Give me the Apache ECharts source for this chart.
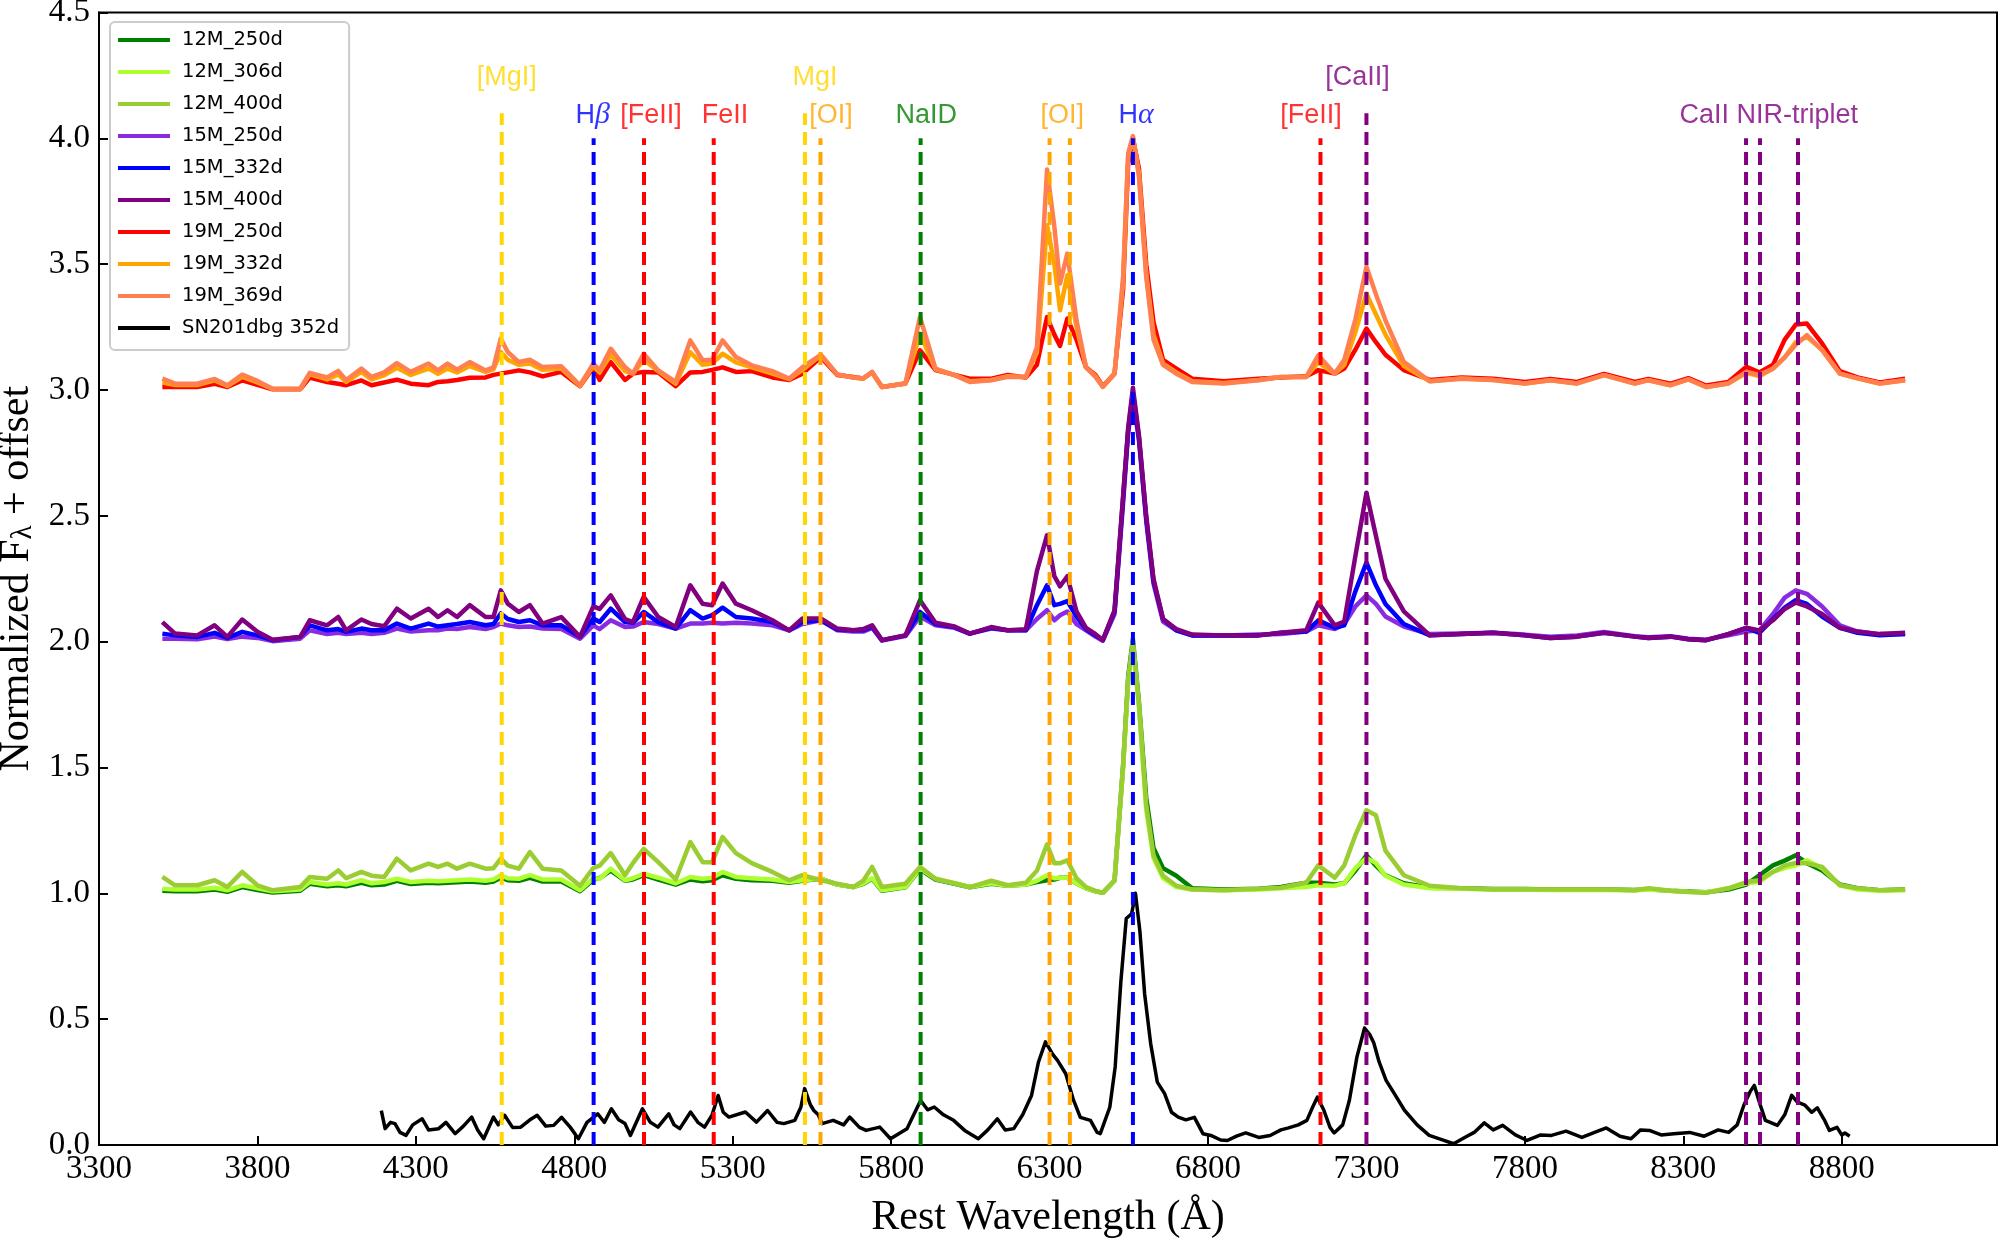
<!DOCTYPE html>
<html>
<head>
<meta charset="utf-8">
<title>Nebular spectra</title>
<script src="https://cdn.jsdelivr.net/npm/echarts@6/dist/echarts.min.js"></script>
<style>
  html, body { margin: 0; padding: 0; background: #fff; }
  #chart { width: 2001px; height: 1240px; }
</style>
</head>
<body>
<div id="chart"></div>
<script>
// rest wavelength grid shared by the model spectra (Angstrom)
const wave = [
  3500, 3540, 3610, 3665, 3705, 3752, 3800, 3848, 3935, 3965,
  4020, 4055, 4080, 4128, 4160, 4200, 4240, 4284, 4340, 4370,
  4400, 4430, 4470, 4520, 4545, 4568, 4590, 4625, 4660, 4700,
  4759, 4818, 4860, 4880, 4915, 4960, 4985, 5019, 5065, 5120,
  5166, 5205, 5235, 5268, 5310, 5360, 5425, 5478, 5520, 5578,
  5630, 5680, 5712, 5740, 5771, 5845, 5891, 5940, 6000, 6048,
  6116, 6168, 6225, 6260, 6292, 6315, 6333, 6356, 6385, 6415,
  6445, 6468, 6505, 6532, 6548, 6563, 6582, 6605, 6628, 6658,
  6700, 6750, 6850, 6960, 7030, 7110, 7148, 7200, 7230, 7265,
  7300, 7330, 7360, 7418, 7500, 7600, 7700, 7800, 7880, 7965,
  8050, 8147, 8190, 8260, 8316, 8372, 8442, 8499, 8540, 8583,
  8620, 8655, 8690, 8738, 8794, 8850, 8920, 9000
]

// normalized flux + offset
const m12_250 = [
  1.010, 1.008, 1.008, 1.015, 1.006, 1.025, 1.013, 1.003, 1.010, 1.038,
  1.028, 1.032, 1.028, 1.042, 1.032, 1.035, 1.050, 1.037, 1.042, 1.040,
  1.042, 1.044, 1.047, 1.042, 1.047, 1.062, 1.052, 1.050, 1.062, 1.047,
  1.047, 1.008, 1.055, 1.060, 1.090, 1.050, 1.055, 1.072, 1.055, 1.035,
  1.055, 1.048, 1.052, 1.072, 1.058, 1.052, 1.050, 1.042, 1.050, 1.058,
  1.035, 1.025, 1.038, 1.058, 1.010, 1.024, 1.095, 1.055, 1.038, 1.024,
  1.038, 1.030, 1.035, 1.045, 1.052, 1.055, 1.062, 1.062, 1.040, 1.020,
  1.008, 1.002, 1.050, 1.510, 1.860, 2.010, 1.760, 1.380, 1.180, 1.100,
  1.070, 1.020, 1.015, 1.018, 1.025, 1.042, 1.042, 1.035, 1.040, 1.090,
  1.151, 1.110, 1.072, 1.040, 1.022, 1.020, 1.017, 1.017, 1.015, 1.015,
  1.015, 1.013, 1.016, 1.010, 1.007, 1.004, 1.015, 1.035, 1.072, 1.111,
  1.130, 1.151, 1.120, 1.091, 1.035, 1.020, 1.012, 1.015
]
const m12_306 = [
  1.018, 1.015, 1.015, 1.022, 1.012, 1.032, 1.020, 1.008, 1.015, 1.045,
  1.035, 1.040, 1.035, 1.052, 1.040, 1.045, 1.058, 1.045, 1.050, 1.048,
  1.050, 1.052, 1.055, 1.050, 1.055, 1.072, 1.060, 1.058, 1.072, 1.055,
  1.055, 1.012, 1.060, 1.058, 1.098, 1.052, 1.060, 1.078, 1.062, 1.040,
  1.065, 1.058, 1.062, 1.085, 1.065, 1.060, 1.055, 1.045, 1.052, 1.058,
  1.035, 1.025, 1.040, 1.060, 1.012, 1.025, 1.098, 1.058, 1.040, 1.025,
  1.040, 1.030, 1.035, 1.050, 1.072, 1.060, 1.062, 1.062, 1.040, 1.020,
  1.008, 1.002, 1.050, 1.500, 1.840, 1.990, 1.740, 1.330, 1.140, 1.060,
  1.025, 1.015, 1.012, 1.015, 1.020, 1.025, 1.032, 1.030, 1.040, 1.100,
  1.141, 1.120, 1.070, 1.035, 1.020, 1.018, 1.015, 1.015, 1.013, 1.013,
  1.013, 1.012, 1.015, 1.010, 1.006, 1.004, 1.020, 1.040, 1.045, 1.085,
  1.100, 1.111, 1.131, 1.100, 1.032, 1.015, 1.010, 1.012
]
const m12_400 = [
  1.065, 1.032, 1.032, 1.052, 1.025, 1.085, 1.032, 1.012, 1.025, 1.065,
  1.058, 1.091, 1.060, 1.085, 1.070, 1.065, 1.138, 1.091, 1.118, 1.105,
  1.118, 1.098, 1.118, 1.098, 1.100, 1.138, 1.110, 1.098, 1.164, 1.098,
  1.091, 1.030, 1.100, 1.110, 1.160, 1.072, 1.120, 1.177, 1.124, 1.055,
  1.204, 1.124, 1.124, 1.224, 1.160, 1.120, 1.085, 1.052, 1.072, 1.052,
  1.038, 1.025, 1.050, 1.105, 1.025, 1.038, 1.105, 1.058, 1.040, 1.025,
  1.050, 1.032, 1.042, 1.090, 1.195, 1.120, 1.120, 1.131, 1.060, 1.025,
  1.010, 1.002, 1.052, 1.500, 1.850, 1.996, 1.750, 1.350, 1.150, 1.070,
  1.030, 1.015, 1.012, 1.018, 1.022, 1.042, 1.111, 1.062, 1.111, 1.231,
  1.330, 1.310, 1.170, 1.072, 1.030, 1.020, 1.015, 1.015, 1.015, 1.015,
  1.015, 1.012, 1.020, 1.010, 1.005, 1.002, 1.020, 1.045, 1.052, 1.085,
  1.110, 1.121, 1.120, 1.105, 1.032, 1.020, 1.012, 1.015
]
const m15_250 = [
  2.012, 2.012, 2.010, 2.020, 2.010, 2.020, 2.015, 2.002, 2.012, 2.045,
  2.030, 2.035, 2.030, 2.035, 2.030, 2.035, 2.052, 2.040, 2.045, 2.045,
  2.052, 2.050, 2.058, 2.050, 2.058, 2.072, 2.065, 2.058, 2.060, 2.052,
  2.050, 2.012, 2.065, 2.050, 2.085, 2.058, 2.060, 2.078, 2.070, 2.052,
  2.072, 2.072, 2.075, 2.072, 2.075, 2.072, 2.065, 2.045, 2.070, 2.085,
  2.045, 2.040, 2.040, 2.055, 2.004, 2.022, 2.100, 2.065, 2.055, 2.032,
  2.052, 2.045, 2.045, 2.090, 2.125, 2.085, 2.105, 2.120, 2.070, 2.045,
  2.020, 2.004, 2.110, 2.550, 2.830, 2.970, 2.800, 2.480, 2.230, 2.080,
  2.045, 2.025, 2.025, 2.028, 2.030, 2.040, 2.065, 2.050, 2.070, 2.140,
  2.184, 2.150, 2.100, 2.060, 2.030, 2.032, 2.035, 2.028, 2.020, 2.025,
  2.038, 2.022, 2.018, 2.022, 2.012, 2.008, 2.025, 2.040, 2.045, 2.110,
  2.175, 2.204, 2.190, 2.140, 2.065, 2.040, 2.030, 2.030
]
const m15_332 = [
  2.032, 2.025, 2.019, 2.035, 2.015, 2.039, 2.025, 2.006, 2.019, 2.065,
  2.045, 2.050, 2.039, 2.052, 2.045, 2.045, 2.072, 2.052, 2.072, 2.060,
  2.065, 2.070, 2.078, 2.065, 2.070, 2.112, 2.090, 2.078, 2.085, 2.065,
  2.065, 2.019, 2.092, 2.078, 2.131, 2.078, 2.075, 2.118, 2.078, 2.052,
  2.125, 2.092, 2.105, 2.135, 2.098, 2.092, 2.078, 2.045, 2.078, 2.085,
  2.048, 2.045, 2.045, 2.060, 2.006, 2.025, 2.118, 2.070, 2.058, 2.032,
  2.055, 2.045, 2.045, 2.145, 2.224, 2.145, 2.150, 2.161, 2.100, 2.050,
  2.025, 2.006, 2.120, 2.570, 2.840, 2.990, 2.810, 2.490, 2.240, 2.090,
  2.045, 2.025, 2.025, 2.025, 2.035, 2.040, 2.085, 2.055, 2.065, 2.200,
  2.314, 2.224, 2.150, 2.070, 2.025, 2.030, 2.035, 2.025, 2.015, 2.020,
  2.035, 2.020, 2.015, 2.020, 2.010, 2.006, 2.030, 2.055, 2.035, 2.090,
  2.135, 2.165, 2.150, 2.100, 2.055, 2.035, 2.025, 2.030
]
const m15_400 = [
  2.078, 2.032, 2.025, 2.065, 2.019, 2.088, 2.039, 2.008, 2.019, 2.085,
  2.065, 2.098, 2.045, 2.088, 2.070, 2.061, 2.131, 2.092, 2.131, 2.098,
  2.125, 2.098, 2.145, 2.098, 2.098, 2.204, 2.151, 2.118, 2.145, 2.072,
  2.098, 2.019, 2.140, 2.130, 2.184, 2.090, 2.078, 2.178, 2.098, 2.058,
  2.224, 2.151, 2.145, 2.231, 2.151, 2.125, 2.085, 2.045, 2.092, 2.092,
  2.052, 2.045, 2.050, 2.065, 2.006, 2.025, 2.164, 2.075, 2.060, 2.032,
  2.058, 2.045, 2.049, 2.280, 2.423, 2.260, 2.220, 2.260, 2.120, 2.055,
  2.030, 2.006, 2.125, 2.580, 2.850, 3.009, 2.820, 2.500, 2.250, 2.090,
  2.050, 2.028, 2.025, 2.025, 2.035, 2.045, 2.155, 2.065, 2.080, 2.340,
  2.592, 2.420, 2.250, 2.120, 2.025, 2.030, 2.035, 2.025, 2.015, 2.020,
  2.035, 2.020, 2.015, 2.020, 2.010, 2.006, 2.030, 2.055, 2.045, 2.085,
  2.130, 2.155, 2.140, 2.110, 2.055, 2.040, 2.030, 2.035
]
const m19_250 = [
  3.012, 3.012, 3.012, 3.025, 3.012, 3.038, 3.020, 3.003, 3.003, 3.049,
  3.032, 3.025, 3.019, 3.038, 3.019, 3.030, 3.041, 3.025, 3.019, 3.032,
  3.035, 3.040, 3.049, 3.050, 3.060, 3.065, 3.070, 3.078, 3.070, 3.054,
  3.072, 3.015, 3.090, 3.040, 3.111, 3.040, 3.065, 3.072, 3.070, 3.015,
  3.070, 3.072, 3.080, 3.090, 3.072, 3.075, 3.050, 3.040, 3.065, 3.130,
  3.060, 3.052, 3.046, 3.070, 3.012, 3.026, 3.158, 3.079, 3.060, 3.045,
  3.045, 3.060, 3.050, 3.100, 3.290, 3.220, 3.175, 3.284, 3.200, 3.090,
  3.060, 3.015, 3.065, 3.400, 3.900, 4.000, 3.880, 3.500, 3.270, 3.120,
  3.085, 3.045, 3.035, 3.045, 3.050, 3.055, 3.079, 3.065, 3.085, 3.160,
  3.244, 3.190, 3.140, 3.079, 3.040, 3.050, 3.045, 3.032, 3.044, 3.032,
  3.064, 3.032, 3.044, 3.025, 3.047, 3.018, 3.032, 3.092, 3.070, 3.100,
  3.200, 3.260, 3.264, 3.185, 3.075, 3.050, 3.030, 3.045
]
const m19_332 = [
  3.030, 3.020, 3.020, 3.038, 3.016, 3.052, 3.030, 3.004, 3.004, 3.062,
  3.042, 3.062, 3.032, 3.072, 3.042, 3.058, 3.088, 3.060, 3.085, 3.065,
  3.085, 3.070, 3.095, 3.072, 3.082, 3.151, 3.120, 3.100, 3.105, 3.080,
  3.085, 3.017, 3.095, 3.070, 3.140, 3.075, 3.065, 3.120, 3.075, 3.025,
  3.150, 3.100, 3.105, 3.144, 3.110, 3.090, 3.065, 3.043, 3.080, 3.138,
  3.062, 3.050, 3.046, 3.070, 3.012, 3.026, 3.224, 3.082, 3.059, 3.035,
  3.040, 3.055, 3.052, 3.150, 3.655, 3.500, 3.317, 3.456, 3.250, 3.090,
  3.055, 3.013, 3.065, 3.430, 3.930, 4.005, 3.860, 3.460, 3.220, 3.105,
  3.070, 3.035, 3.028, 3.040, 3.052, 3.052, 3.110, 3.065, 3.100, 3.230,
  3.383, 3.300, 3.220, 3.095, 3.035, 3.046, 3.040, 3.026, 3.039, 3.026,
  3.059, 3.026, 3.039, 3.019, 3.042, 3.012, 3.026, 3.068, 3.055, 3.085,
  3.130, 3.190, 3.211, 3.160, 3.065, 3.046, 3.026, 3.039
]
const m19_369 = [
  3.045, 3.025, 3.025, 3.044, 3.019, 3.061, 3.036, 3.005, 3.005, 3.068,
  3.050, 3.076, 3.040, 3.085, 3.052, 3.070, 3.107, 3.072, 3.105, 3.078,
  3.105, 3.081, 3.111, 3.078, 3.090, 3.204, 3.151, 3.111, 3.120, 3.091,
  3.094, 3.019, 3.105, 3.078, 3.164, 3.091, 3.065, 3.144, 3.078, 3.032,
  3.197, 3.118, 3.120, 3.197, 3.131, 3.098, 3.075, 3.045, 3.091, 3.140,
  3.062, 3.050, 3.046, 3.072, 3.012, 3.026, 3.290, 3.085, 3.059, 3.032,
  3.039, 3.052, 3.052, 3.170, 3.876, 3.650, 3.423, 3.542, 3.277, 3.090,
  3.052, 3.012, 3.065, 3.450, 3.940, 4.009, 3.850, 3.450, 3.200, 3.100,
  3.065, 3.032, 3.026, 3.039, 3.052, 3.052, 3.138, 3.065, 3.120, 3.280,
  3.490, 3.380, 3.277, 3.112, 3.035, 3.045, 3.040, 3.026, 3.039, 3.026,
  3.059, 3.026, 3.039, 3.019, 3.042, 3.012, 3.026, 3.072, 3.060, 3.085,
  3.130, 3.180, 3.218, 3.158, 3.065, 3.046, 3.026, 3.039
]

// observed spectrum
const snWave = [
  4191, 4203, 4220, 4234, 4250, 4269, 4290, 4320, 4340, 4372,
  4395, 4424, 4450, 4476, 4495, 4514, 4545, 4560, 4580, 4605,
  4631, 4660, 4683, 4710, 4735, 4760, 4787, 4813, 4840, 4874,
  4895, 4917, 4940, 4960, 4977, 5015, 5040, 5064, 5098, 5115,
  5133, 5167, 5190, 5211, 5235, 5254, 5270, 5288, 5340, 5375,
  5410, 5440, 5461, 5496, 5515, 5527, 5545, 5556, 5570, 5582,
  5617, 5650, 5669, 5700, 5721, 5764, 5798, 5850, 5875, 5893,
  5915, 5936, 5965, 5997, 6032, 6075, 6105, 6135, 6160, 6187,
  6215, 6243, 6265, 6287, 6310, 6325, 6351, 6375, 6397, 6429,
  6450, 6460, 6490, 6507, 6525, 6542, 6559, 6571, 6585, 6600,
  6619, 6640, 6663, 6685, 6706, 6730, 6757, 6784, 6809, 6840,
  6861, 6890, 6919, 6960, 6996, 7030, 7054, 7085, 7112, 7130,
  7145, 7165, 7185, 7198, 7225, 7246, 7270, 7294, 7310, 7323,
  7340, 7362, 7390, 7420, 7460, 7498, 7540, 7575, 7610, 7640,
  7672, 7700, 7730, 7770, 7807, 7850, 7884, 7930, 7980, 8020,
  8057, 8100, 8135, 8165, 8193, 8230, 8270, 8320, 8366, 8410,
  8443, 8470, 8491, 8510, 8524, 8540, 8559, 8597, 8620, 8642,
  8660, 8684, 8705, 8723, 8745, 8761, 8785, 8800, 8810, 8825
]
const snFlux = [
  0.137, 0.065, 0.090, 0.085, 0.050, 0.038, 0.080, 0.104, 0.060, 0.065,
  0.090, 0.045, 0.075, 0.111, 0.060, 0.025, 0.111, 0.080, 0.118, 0.070,
  0.071, 0.100, 0.118, 0.075, 0.078, 0.110, 0.071, 0.025, 0.090, 0.124,
  0.090, 0.144, 0.100, 0.085, 0.038, 0.144, 0.090, 0.071, 0.124, 0.080,
  0.065, 0.131, 0.090, 0.071, 0.120, 0.197, 0.130, 0.111, 0.131, 0.091,
  0.137, 0.090, 0.085, 0.098, 0.150, 0.224, 0.160, 0.137, 0.120, 0.085,
  0.098, 0.080, 0.111, 0.070, 0.058, 0.071, 0.025, 0.065, 0.130, 0.177,
  0.140, 0.151, 0.120, 0.098, 0.058, 0.025, 0.060, 0.104, 0.060, 0.065,
  0.120, 0.197, 0.330, 0.410, 0.360, 0.336, 0.283, 0.180, 0.110, 0.098,
  0.050, 0.045, 0.150, 0.310, 0.650, 0.900, 0.919, 1.000, 0.850, 0.600,
  0.403, 0.250, 0.204, 0.130, 0.111, 0.100, 0.110, 0.045, 0.038, 0.020,
  0.018, 0.035, 0.048, 0.030, 0.038, 0.060, 0.068, 0.080, 0.098, 0.150,
  0.190, 0.140, 0.070, 0.048, 0.080, 0.177, 0.350, 0.465, 0.440, 0.406,
  0.330, 0.257, 0.200, 0.138, 0.080, 0.038, 0.020, 0.005, 0.030, 0.050,
  0.088, 0.060, 0.078, 0.040, 0.018, 0.040, 0.038, 0.055, 0.030, 0.050,
  0.068, 0.035, 0.025, 0.060, 0.058, 0.040, 0.045, 0.050, 0.035, 0.060,
  0.050, 0.080, 0.158, 0.210, 0.237, 0.170, 0.098, 0.078, 0.120, 0.197,
  0.170, 0.158, 0.130, 0.148, 0.100, 0.058, 0.070, 0.040, 0.048, 0.035
]

// line identifications
const lineWave = [4571, 4861, 5020, 5240, 5528, 5577, 5893, 6300, 6364, 6563, 7155, 7300, 8498, 8542, 8662]
const lineIon = ['[MgI]', 'H', '[FeII]', 'FeII', 'MgI', '[OI]', 'NaID', '[OI]', '[OI]', 'H', '[FeII]', '[CaII]', 'CaII', 'CaII', 'CaII']
const labelText = ['[MgI]', 'Hβ', '[FeII]', 'FeII', 'MgI', '[OI]', 'NaID', '[OI]', 'Hα', '[FeII]', '[CaII]', 'CaII NIR-triplet']
const labelWave = [4587, 4858, 5042, 5276, 5560, 5610, 5911, 6340, 6573, 7125, 7272, 8570]
const labelUpper = [true, false, false, false, true, false, false, false, false, false, true, false]

const ionColor = {
  '[MgI]': '#FFD700', 'MgI': '#FFD700', 'H': '#0000FF', '[FeII]': '#FF0000', 'FeII': '#FF0000',
  '[OI]': '#FFA500', 'NaID': '#008000', '[CaII]': '#800080', 'CaII': '#800080'
}
const labelColor = ['#FFD700', '#0000FF', '#FF0000', '#FF0000', '#FFD700', '#FFA500', '#008000', '#FFA500', '#0000FF', '#FF0000', '#800080', '#800080']

const spectra = [
  { name: '12M_250d', flux: m12_250, color: '#008000' },
  { name: '12M_306d', flux: m12_306, color: '#ADFF2F' },
  { name: '12M_400d', flux: m12_400, color: '#9ACD32' },
  { name: '15M_250d', flux: m15_250, color: '#8A2BE2' },
  { name: '15M_332d', flux: m15_332, color: '#0000FF' },
  { name: '15M_400d', flux: m15_400, color: '#800080' },
  { name: '19M_250d', flux: m19_250, color: '#FF0000' },
  { name: '19M_332d', flux: m19_332, color: '#FFA500' },
  { name: '19M_369d', flux: m19_369, color: '#FF7F50' }
]

const serif = 'Liberation Serif'
const sans = 'Liberation Sans'

const chart = echarts.init(document.getElementById('chart'))

const series = []
spectra.forEach(s => {
  series.push({
    name: s.name,
    type: 'line',
    data: wave.map((w, i) => [w, s.flux[i]]),
    showSymbol: false,
    color: s.color,
    lineStyle: { color: s.color, width: 4.5, join: 'round' },
    z: 2
  })
})
series.push({
  name: 'SN201dbg 352d',
  type: 'line',
  data: snWave.map((w, i) => [w, snFlux[i]]),
  showSymbol: false,
  color: '#000000',
  lineStyle: { color: '#000000', width: 3.5, join: 'round' },
  z: 2
})

// dashed line markers
lineWave.forEach((w, i) => {
  const ion = lineIon[i]
  const top = (ion === '[MgI]' || ion === 'MgI' || ion === '[CaII]') ? 4.1 : 4.0
  series.push({
    type: 'line',
    data: [[w, 0], [w, top]],
    showSymbol: false,
    silent: true,
    lineStyle: { color: ionColor[ion], width: 4, type: [13, 7] },
    z: 3
  })
})

// line labels
series.push({
  type: 'scatter',
  symbolSize: 1,
  itemStyle: { color: 'rgba(0,0,0,0)' },
  silent: true,
  z: 4,
  label: {
    show: true,
    position: 'inside',
    fontFamily: sans,
    fontSize: 27,
    formatter: p => {
      if (p.name === 'Hβ') return '{h|H}{g|β}'
      if (p.name === 'Hα') return '{h|H}{g|α}'
      return p.name
    },
    rich: {
      h: { fontFamily: sans, fontSize: 27, color: '#0000FF' },
      g: { fontFamily: serif, fontStyle: 'italic', fontSize: 30, color: '#0000FF' }
    }
  },
  data: labelText.map((t, i) => ({
    name: t,
    value: [labelWave[i], labelUpper[i] ? 4.24 : 4.092],
    label: { color: labelColor[i] }
  }))
})

chart.setOption({
  animation: false,
  backgroundColor: '#ffffff',
  grid: {
    left: 99, right: 4, top: 12.5, bottom: 95,
    outerBoundsMode: 'none',
    containLabel: false,
    show: true, borderColor: '#000', borderWidth: 2, backgroundColor: 'transparent'
  },
  legend: {
    data: spectra.map(s => s.name).concat(['SN201dbg 352d']),
    orient: 'vertical',
    left: 110,
    top: 22,
    icon: 'rect',
    itemWidth: 52,
    itemHeight: 4,
    itemGap: 12,
    padding: [8, 10, 12, 8],
    backgroundColor: 'rgba(255,255,255,0.85)',
    borderColor: '#cccccc',
    borderWidth: 2,
    borderRadius: 5,
    textStyle: { fontFamily: 'DejaVu Sans', fontSize: 19.5, color: '#000', lineHeight: 20, padding: [0, 0, 0, 7] }
  },
  xAxis: {
    type: 'value',
    min: 3300,
    max: 9290,
    interval: 500,
    name: 'Rest Wavelength (Å)',
    nameLocation: 'middle',
    nameGap: 52,
    nameTextStyle: { fontFamily: serif, fontSize: 42, color: '#000' },
    axisLine: { lineStyle: { color: '#000', width: 2 } },
    axisTick: { inside: true, length: 9, lineStyle: { color: '#000', width: 2 } },
    axisLabel: {
      fontFamily: serif, fontSize: 33, color: '#000', margin: 8, showMaxLabel: false,
      formatter: v => ((v - 3300) % 500 === 0 && v <= 8800 ? String(v) : '')
    },
    splitLine: { show: false }
  },
  yAxis: {
    type: 'value',
    min: 0,
    max: 4.5,
    interval: 0.5,
    name: '{a|Normalized F}{s|λ}{a| + offset}',
    nameLocation: 'middle',
    nameGap: 60,
    nameRotate: 90,
    nameTextStyle: {
      color: '#000',
      rich: {
        a: { fontFamily: serif, fontSize: 42, color: '#000' },
        s: { fontFamily: serif, fontSize: 29, color: '#000', verticalAlign: 'bottom' }
      }
    },
    axisLine: { lineStyle: { color: '#000', width: 2 } },
    axisTick: { inside: true, length: 9, lineStyle: { color: '#000', width: 2 } },
    axisLabel: {
      fontFamily: serif, fontSize: 33, color: '#000', margin: 9,
      formatter: v => v.toFixed(1)
    },
    splitLine: { show: false }
  },
  series: series
})
</script>
</body>
</html>
